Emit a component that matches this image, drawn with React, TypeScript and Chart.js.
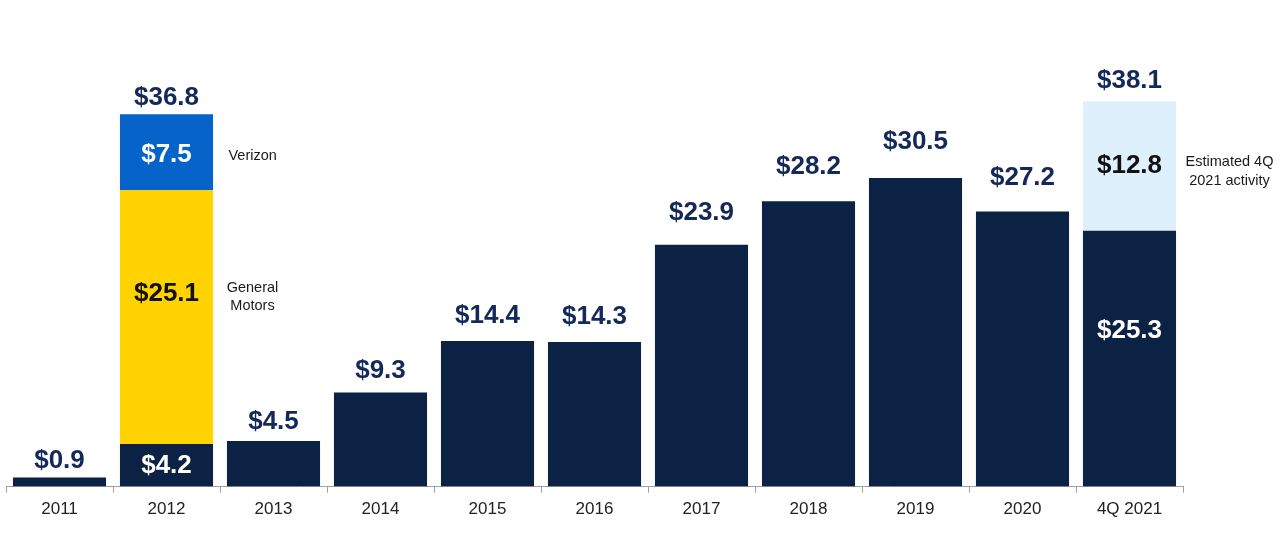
import React, { useEffect, useRef } from "react";
import { Chart, registerables } from "chart.js";

Chart.register(...registerables);

const categories = ["2011", "2012", "2013", "2014", "2015", "2016", "2017", "2018", "2019", "2020", "4Q 2021"];
const baseValues = [0.9, 4.2, 4.5, 9.3, 14.4, 14.3, 23.9, 28.2, 30.5, 27.2, 25.3];
const gmValues = [0, 25.1, 0, 0, 0, 0, 0, 0, 0, 0, 0];
const verizonValues = [0, 7.5, 0, 0, 0, 0, 0, 0, 0, 0, 0];
const estimatedValues = [0, 0, 0, 0, 0, 0, 0, 0, 0, 0, 12.8];
const totalLabels = ["$0.9", "$36.8", "$4.5", "$9.3", "$14.4", "$14.3", "$23.9", "$28.2", "$30.5", "$27.2", "$38.1"];

const NAVY = "#0b2245";
const YELLOW = "#ffd200";
const BLUE = "#0563c9";
const LIGHT = "#ddf0fc";
const FONT = "'Liberation Sans', Arial, sans-serif";

const labelPlugin = {
  id: "labelPlugin",
  afterDatasetsDraw(chart: any) {
    const ctx = chart.ctx;
    const x = chart.scales.x;
    const y = chart.scales.y;
    ctx.save();
    ctx.textAlign = "center";
    ctx.textBaseline = "middle";
    // totals
    ctx.font = `bold 26px ${FONT}`;
    ctx.fillStyle = "#14285a";
    categories.forEach((_, i) => {
      const extra = gmValues[i] + verizonValues[i] + estimatedValues[i];
      const total = baseValues[i] + extra;
      const px = x.getPixelForValue(i);
      let gap = 16 + 0.65 * total;
      if (verizonValues[i] > 0) gap = 16;
      else if (estimatedValues[i] > 0) gap = 20;
      const py = y.getPixelForValue(total) - gap;
      ctx.fillText(totalLabels[i], px, py);
    });
    // inner labels
    const inner = (text: string, i: number, lo: number, hi: number, frac: number, color: string) => {
      const px = x.getPixelForValue(i);
      const py = y.getPixelForValue(lo + (hi - lo) * frac);
      ctx.fillStyle = color;
      ctx.fillText(text, px, py);
    };
    const b1 = baseValues[1];
    const g1 = b1 + gmValues[1];
    const v1 = g1 + verizonValues[1];
    inner("$4.2", 1, 0, b1, 0.5, "#ffffff");
    inner("$25.1", 1, b1, g1, 0.59, "#111111");
    inner("$7.5", 1, g1, v1, 0.46, "#ffffff");
    const b10 = baseValues[10];
    inner("$25.3", 10, 0, b10, 0.61, "#ffffff");
    inner("$12.8", 10, b10, b10 + estimatedValues[10], 0.5, "#111111");
    // side notes
    ctx.font = `14.5px ${FONT}`;
    ctx.fillStyle = "#1a1a1a";
    const xr1 = x.getPixelForValue(1) + 46;
    ctx.textAlign = "left";
    ctx.fillText("Verizon", xr1 + 16, y.getPixelForValue(g1 + verizonValues[1] * 0.45));
    ctx.textAlign = "center";
    const gy = y.getPixelForValue(b1 + gmValues[1] * 0.6);
    ctx.fillText("General", xr1 + 40, gy - 4);
    ctx.fillText("Motors", xr1 + 40, gy + 14);
    const xr10 = x.getPixelForValue(10) + 46;
    const ym = y.getPixelForValue(b10 + estimatedValues[10] * 0.51);
    ctx.fillText("Estimated 4Q", xr10 + 54, ym - 3);
    ctx.fillText("2021 activity", xr10 + 54, ym + 16);
    ctx.restore();
  },
};

export default function App() {
  const ref = useRef<HTMLCanvasElement>(null);
  useEffect(() => {
    if (!ref.current) return;
    const common = { barPercentage: 0.87, categoryPercentage: 1, borderWidth: 0 };
    const chart = new Chart(ref.current, {
      type: "bar",
      data: {
        labels: categories,
        datasets: [
          { label: "Base", data: baseValues, backgroundColor: NAVY, ...common },
          { label: "General Motors", data: gmValues, backgroundColor: YELLOW, ...common },
          { label: "Verizon", data: verizonValues, backgroundColor: BLUE, ...common },
          { label: "Estimated", data: estimatedValues, backgroundColor: LIGHT, ...common },
        ],
      },
      options: {
        animation: false,
        responsive: true,
        maintainAspectRatio: false,
        layout: { padding: { left: 6, right: 97, top: 0, bottom: 16 } },
        plugins: { legend: { display: false }, tooltip: { enabled: false } },
        scales: {
          x: {
            stacked: true,
            grid: { offset: true, drawOnChartArea: false, drawTicks: true, tickLength: 6, color: "#a0a0a0" },
            border: { display: true, color: "#a0a0a0", width: 1 },
            ticks: { color: "#222222", font: { family: FONT, size: 17 }, padding: 7, maxRotation: 0 },
          },
          y: { stacked: true, display: false, min: 0, max: 48.1 },
        },
      },
      plugins: [labelPlugin],
    });
    return () => chart.destroy();
  }, []);
  return (
    <div style={{ position: "fixed", left: 0, top: 0, width: 1280, height: 543, background: "#fff" }}>
      <canvas ref={ref} />
    </div>
  );
}
